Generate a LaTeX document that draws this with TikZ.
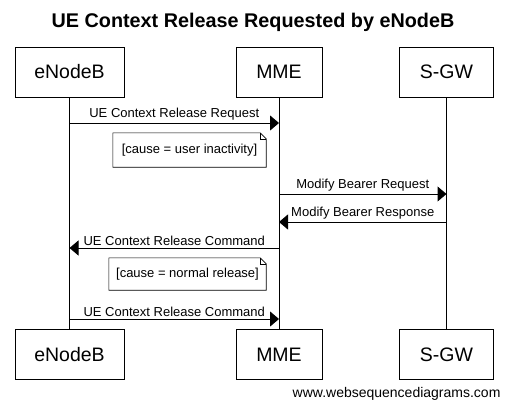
\documentclass[tikz,border=0pt]{standalone}
\usepackage{fontspec}
\setmainfont{Liberation Sans}
\usetikzlibrary{arrows.meta,positioning,calc}

\begin{document}
\begin{tikzpicture}[
  x=1pt, y=-1pt,
  font=\fontsize{13}{15}\selectfont,
  actor/.style={draw, line width=1pt, minimum width=#1, minimum height=50pt,
    inner sep=0pt, font=\fontsize{19.5}{22}\selectfont},
  msg/.style={line width=1pt, -{Triangle[length=9pt,width=15pt]}},
  msglabel/.style={midway, above, inner sep=2pt},
  note/.style={inner sep=0pt},
]

\fill[white] (0,0) rectangle (506,402);
\useasboundingbox (0,0) rectangle (506,402);

\node[font=\bfseries\fontsize{19.8}{22}\selectfont] (title) at (253,22)
  {UE Context Release Requested by eNodeB};

% participants, top and bottom, with lifelines
\foreach \id/\x/\w/\txt in {enb/69.5/109/eNodeB, mme/279/86/MME, sgw/446.5/94/S-GW}{
  \node[actor=\w pt] (\id T) at (\x,72) {\txt};
  \node[actor=\w pt] (\id B) at (\x,354.5) {\txt};
  \draw[line width=1pt] (\id T) -- (\id B);
}

% message rows
\coordinate (r1) at (0,123);
\coordinate (r2) at (0,194);
\coordinate (r3) at (0,222);
\coordinate (r4) at (0,248);
\coordinate (r5) at (0,319);

\draw[msg] (enbT |- r1) -- (mmeT |- r1) node[msglabel] (m1) {UE Context Release Request};
\draw[msg] (mmeT |- r2) -- (sgwT |- r2) node[msglabel] (m2) {Modify Bearer Request};
\draw[msg] (sgwT |- r3) -- (mmeT |- r3) node[msglabel] (m3) {Modify Bearer Response};
\draw[msg] (mmeT |- r4) -- (enbT |- r4) node[msglabel] (m4) {UE Context Release Command};
\draw[msg] (enbT |- r5) -- (mmeT |- r5) node[msglabel] (m5) {UE Context Release Command};

% notes with folded corner
\node[note, minimum width=153pt, minimum height=34pt] (n1) at (189.5,150) {[cause = user inactivity]};
\node[note, minimum width=157pt, minimum height=32pt] (n2) at (187.5,274) {[cause = normal release]};
\foreach \n in {n1,n2}{
  \draw[line width=0.6pt] (\n.south west) -- (\n.north west) -- ([xshift=-6pt]\n.north east)
    -- ([yshift=-6pt]\n.north east) -- (\n.south east) -- cycle;
  \draw[line width=0.6pt] ([xshift=-6pt]\n.north east) -- ([xshift=-6pt,yshift=-6pt]\n.north east)
    -- ([yshift=-6pt]\n.north east);
}

\node[font=\fontsize{14}{16}\selectfont, anchor=east] (web) at (504,394) {www.websequencediagrams.com};

\end{tikzpicture}
\end{document}
